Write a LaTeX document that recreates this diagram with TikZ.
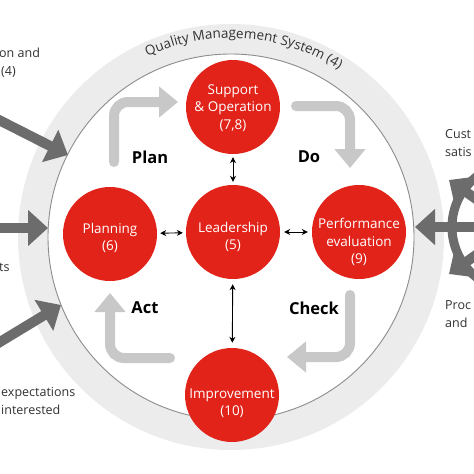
\documentclass[tikz,border=0pt]{standalone}
\usepackage{fontspec}
\setmainfont{Open Sans}
\usetikzlibrary{arrows.meta,decorations.text}
\definecolor{qred}{RGB}{226,35,26}
\definecolor{ringgray}{RGB}{236,236,236}
\definecolor{linegray}{RGB}{140,140,140}
\definecolor{pgray}{RGB}{200,200,200}
\definecolor{dgray}{RGB}{108,108,108}
\definecolor{otxt}{RGB}{50,50,50}
\tikzset{
  redc/.style={circle, fill=qred, minimum size=94pt, inner sep=0pt},
  ctext/.style={text=white, align=center, inner sep=0pt, font=\fontsize{13.5}{17.5}\selectfont},
  pdcalabel/.style={text=black, inner sep=0pt, font=\bfseries\fontsize{16.5}{18}\selectfont},
  pdca/.style={draw=pgray, line width=10pt, rounded corners=14pt, line cap=round, -{Triangle[width=30pt,length=19pt]}},
  ext/.style={draw=dgray, line width=10pt, -{Triangle[width=35pt,length=20pt]}},
  dbl/.style={draw=black, line width=0.9pt, {Stealth[length=6pt,width=6pt]}-{Stealth[length=6pt,width=6pt]}},
  otext/.style={text=otxt, inner sep=0pt, font=\fontsize{12.5}{17.5}\selectfont}
}
\begin{document}
\begin{tikzpicture}[x=1pt,y=1pt]
\useasboundingbox (0,0) rectangle (474,-474);
\clip (0,0) rectangle (474,-474);
\fill[white] (0,0) rectangle (474,-474);
\coordinate (C) at (231,-237);
% ring
\fill[ringgray, even odd rule] (C) circle[radius=213] (C) circle[radius=183];
\draw[linegray, line width=0.9pt] (C) circle[radius=183];
\path[decorate, decoration={text along path, text align=center,
  text={|\fontsize{13.5}{15}\selectfont\color{otxt}|Quality Management System (4)}}]
  (C) ++(116:199) arc[start angle=116, end angle=56, radius=199];
% external arrows left
\coordinate (e1s) at (-5,-118); \coordinate (e1t) at (68,-155);
\coordinate (e2s) at (-5,-228); \coordinate (e2t) at (48,-228);
\coordinate (e3s) at (-5,-345); \coordinate (e3t) at (61,-305);
\draw[ext] (e1s) -- (e1t);
\draw[ext] (e2s) -- (e2t);
\draw[ext] (e3s) -- (e3t);
% right compass
\coordinate (hub) at (516,-227);
\coordinate (r1) at (415,-227);
\coordinate (r2) at (449,-180);
\coordinate (r3) at (449,-274);
\draw[dgray, line width=9pt] (hub) circle[radius=64];
\draw[ext] (hub) -- (r1);
\draw[ext] (hub) -- (r2);
\draw[ext] (hub) -- (r3);
% PDCA arrows
\coordinate (pa1) at (114,-162); \coordinate (pa2) at (114,-102); \coordinate (pa3) at (178,-102);
\coordinate (da1) at (296,-106); \coordinate (da2) at (350,-106); \coordinate (da3) at (350,-168);
\coordinate (ca1) at (350,-295); \coordinate (ca2) at (350,-357); \coordinate (ca3) at (287,-357);
\coordinate (aa1) at (170,-358); \coordinate (aa2) at (110,-358); \coordinate (aa3) at (110,-293);
\draw[pdca] (pa1) -- (pa2) -- (pa3);
\draw[pdca] (da1) -- (da2) -- (da3);
\draw[pdca] (ca1) -- (ca2) -- (ca3);
\draw[pdca] (aa1) -- (aa2) -- (aa3);
% circles
\node[redc] (sup) at (233,-107) {};
\node[ctext] (sup-t) at (233,-108) {Support\\\& Operation\\(7,8)};
\node[redc] (lead) at (233,-232) {};
\node[ctext] (lead-t) at (233,-237) {Leadership\\(5)};
\node[redc] (plan) at (110,-234) {};
\node[ctext] (plan-t) at (110,-238) {Planning\\(6)};
\node[redc] (perf) at (359,-232) {};
\node[ctext] (perf-t) at (359,-242) {Performance\\evaluation\\(9)};
\node[redc] (impr) at (232,-395) {};
\node[ctext] (impr-t) at (232,-403) {Improvement\\(10)};
% double arrows
\draw[dbl, shorten >=3pt, shorten <=3pt] (sup) -- (lead);
\draw[dbl, shorten >=3pt, shorten <=3pt] (plan) -- (lead);
\draw[dbl, shorten >=4pt, shorten <=4pt] (lead) -- (perf);
\draw[dbl, shorten >=5pt, shorten <=5pt] (lead) -- (impr);
% PDCA labels
\node[pdcalabel] (lplan) at (150,-157) {Plan};
\node[pdcalabel] (ldo) at (309,-157) {Do};
\node[pdcalabel] (lact) at (145,-308) {Act};
\node[pdcalabel] (lcheck) at (314,-308) {Check};
% outside texts
\node[otext, anchor=west] (t1) at (-1,-53) {on and};
\node[otext, anchor=west] (t2) at (1,-72) {(4)};
\node[otext, anchor=west] (t3) at (-1,-267) {ts};
\node[otext, anchor=west, align=left] (t4) at (1,-401) {expectations\\interested};
\node[otext, anchor=west, align=left] (t5) at (445,-143) {Cust\\satis};
\node[otext, anchor=west, align=left] (t6) at (445,-314) {Proc\\and};
\end{tikzpicture}
\end{document}
